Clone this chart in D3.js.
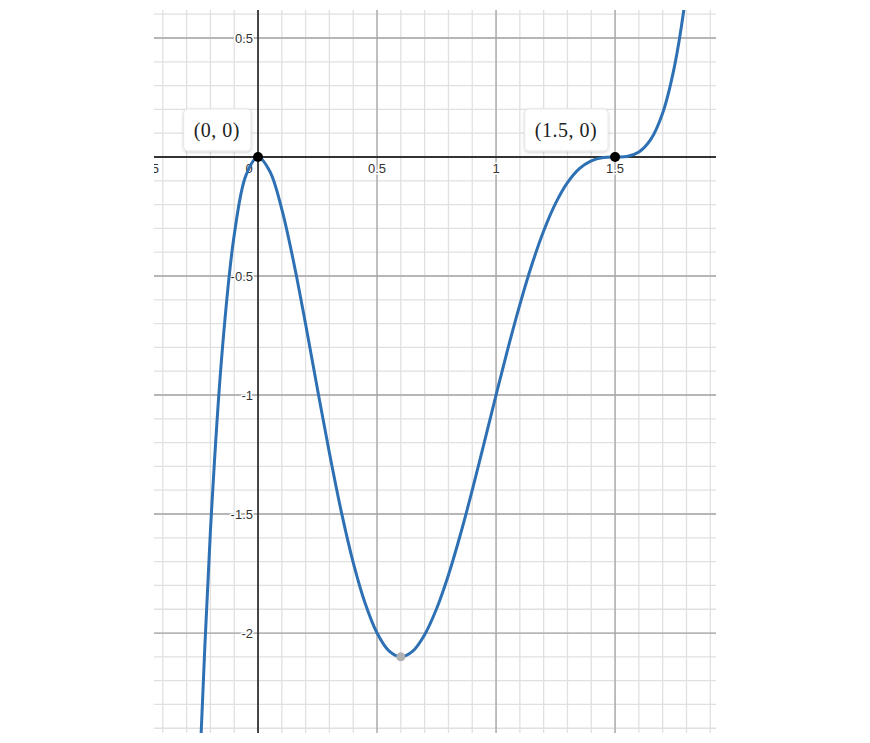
<!DOCTYPE html>
<html>
<head>
<meta charset="utf-8">
<script src="https://cdn.jsdelivr.net/npm/d3@7"></script>
<style>
  html, body { margin: 0; padding: 0; background: #fff; }
  svg { display: block; }
  .tick-label { font-family: "Liberation Sans", Arial, sans-serif; font-size: 13px; fill: #333; stroke: #fff; stroke-width: 3px; paint-order: stroke; stroke-linejoin: round; }
  .pt-label { font-family: "Liberation Serif", "DejaVu Serif", serif; font-size: 20px; fill: #222; letter-spacing: 0.5px; }
</style>
</head>
<body>
<svg id="chart" width="870" height="743"></svg>
<script>
// ---- data ----
const curveX = [-0.25, -0.2, -0.15, -0.1, -0.05, 0, 0.05, 0.1, 0.15, 0.2, 0.25, 0.3, 0.35, 0.4, 0.45, 0.5, 0.55, 0.6, 0.65, 0.7, 0.75, 0.8, 0.85, 0.9, 0.95, 1.0, 1.05, 1.1, 1.15, 1.2, 1.25, 1.3, 1.35, 1.4, 1.45, 1.5, 1.55, 1.6, 1.65, 1.7, 1.75, 1.8, 1.85];
const curveY = [-2.680, -1.572, -0.809, -0.328, -0.075, 0, -0.061, -0.220, -0.443, -0.703, -0.977, -1.244, -1.491, -1.704, -1.875, -2.000, -2.075, -2.100, -2.076, -2.007, -1.898, -1.756, -1.587, -1.400, -1.201, -1.000, -0.804, -0.620, -0.454, -0.311, -0.195, -0.108, -0.049, -0.016, -0.002, 0, 0.002, 0.021, 0.074, 0.185, 0.383, 0.700, 1.174];
const xMajorTicks = [-0.5, 0, 0.5, 1, 1.5];
const xTickLabels = ["-0.5", "0", "0.5", "1", "1.5"];
const yMajorTicks = [0.5, -0.5, -1, -1.5, -2];
const yTickLabels = ["0.5", "-0.5", "-1", "-1.5", "-2"];
const labeledPoints = [{x: 0, y: 0, label: "(0, 0)"}, {x: 1.5, y: 0, label: "(1.5, 0)"}];
const minPoint = [{x: 0.6, y: -2.1}];

// ---- layout ----
const plot = {left: 154, right: 716, top: 10, bottom: 733};
const x = d3.scaleLinear().domain([-0.437, 1.924]).range([plot.left, plot.right]);
const y = d3.scaleLinear().domain([0.6176, -2.42]).range([plot.top, plot.bottom]);

const svg = d3.select("#chart");
const defs = svg.append("defs");
defs.append("clipPath").attr("id", "clip").append("rect")
  .attr("x", plot.left).attr("y", plot.top)
  .attr("width", plot.right - plot.left).attr("height", plot.bottom - plot.top);
const f = defs.append("filter").attr("id", "shadow").attr("x", "-20%").attr("y", "-20%").attr("width", "140%").attr("height", "150%");
f.append("feDropShadow").attr("dx", 0).attr("dy", 1).attr("stdDeviation", 1.5).attr("flood-color", "#000").attr("flood-opacity", 0.18);

const g = svg.append("g").attr("clip-path", "url(#clip)");

// minor grid
const xMinor = d3.range(-4, 20).map(d => d / 10);
const yMinor = d3.range(-25, 7).map(d => d / 10);
g.append("g").selectAll("line").data(xMinor).join("line")
  .attr("x1", d => x(d)).attr("x2", d => x(d)).attr("y1", plot.top).attr("y2", plot.bottom)
  .attr("stroke", "#e0e0e0").attr("stroke-width", 1.3);
g.append("g").selectAll("line").data(yMinor).join("line")
  .attr("y1", d => y(d)).attr("y2", d => y(d)).attr("x1", plot.left).attr("x2", plot.right)
  .attr("stroke", "#e0e0e0").attr("stroke-width", 1.3);

// major grid
const xMajor = [-0.5, 0.5, 1, 1.5];
const yMajor = [0.5, -0.5, -1, -1.5, -2];
g.append("g").selectAll("line").data(xMajor).join("line")
  .attr("x1", d => x(d)).attr("x2", d => x(d)).attr("y1", plot.top).attr("y2", plot.bottom)
  .attr("stroke", "#a6a6a6").attr("stroke-width", 1.3);
g.append("g").selectAll("line").data(yMajor).join("line")
  .attr("y1", d => y(d)).attr("y2", d => y(d)).attr("x1", plot.left).attr("x2", plot.right)
  .attr("stroke", "#a6a6a6").attr("stroke-width", 1.3);

// axes
g.append("line").attr("x1", plot.left).attr("x2", plot.right).attr("y1", y(0)).attr("y2", y(0))
  .attr("stroke", "#333").attr("stroke-width", 1.8);
g.append("line").attr("x1", x(0)).attr("x2", x(0)).attr("y1", plot.top).attr("y2", plot.bottom)
  .attr("stroke", "#333").attr("stroke-width", 1.8);

// tick labels
g.append("g").selectAll("text").data(xMajorTicks).join("text")
  .attr("class", "tick-label")
  .attr("x", d => d === 0 ? x(d) - 9 : (d < 0 ? x(d) + 20 : x(d)))
  .attr("y", y(0) + 16)
  .attr("text-anchor", d => d < 0 ? "end" : "middle")
  .text((d, i) => xTickLabels[i]);
g.append("g").selectAll("text").data(yMajorTicks).join("text")
  .attr("class", "tick-label")
  .attr("x", x(0) - 5)
  .attr("y", d => y(d))
  .attr("dy", "0.36em")
  .attr("text-anchor", "end")
  .text((d, i) => yTickLabels[i]);

// curve
const pts = curveX.map((d, i) => [d, curveY[i]]);
const line = d3.line().x(d => x(d[0])).y(d => y(d[1])).curve(d3.curveCatmullRom.alpha(0.5));
g.append("path").datum(pts).attr("d", line)
  .attr("fill", "none").attr("stroke", "#2d70b3").attr("stroke-width", 3)
  .attr("stroke-linejoin", "round");

// points
g.append("g").selectAll("circle").data(minPoint).join("circle")
  .attr("cx", d => x(d.x)).attr("cy", d => y(d.y)).attr("r", 4.5).attr("fill", "#b0b0b0");
g.append("g").selectAll("circle").data(labeledPoints).join("circle")
  .attr("cx", d => x(d.x)).attr("cy", d => y(d.y)).attr("r", 5).attr("fill", "#000");

// point labels (box right edge sits just left of the point)
const lab = svg.append("g").selectAll("g").data(labeledPoints).join("g");
lab.each(function(d) {
  const gg = d3.select(this);
  const padX = 10;
  const right = x(d.x) - 7;
  const t = gg.append("text").attr("class", "pt-label")
    .attr("x", right - padX - 1).attr("y", y(d.y) - 20)
    .attr("text-anchor", "end").text(d.label);
  const bb = t.node().getBBox();
  gg.insert("rect", "text")
    .attr("x", bb.x - padX).attr("y", y(d.y) - 48)
    .attr("width", right - (bb.x - padX)).attr("height", 42)
    .attr("rx", 4).attr("fill", "#fff")
    .attr("stroke", "#e6e6e6").attr("stroke-width", 1)
    .attr("filter", "url(#shadow)");
});
</script>
</body>
</html>
